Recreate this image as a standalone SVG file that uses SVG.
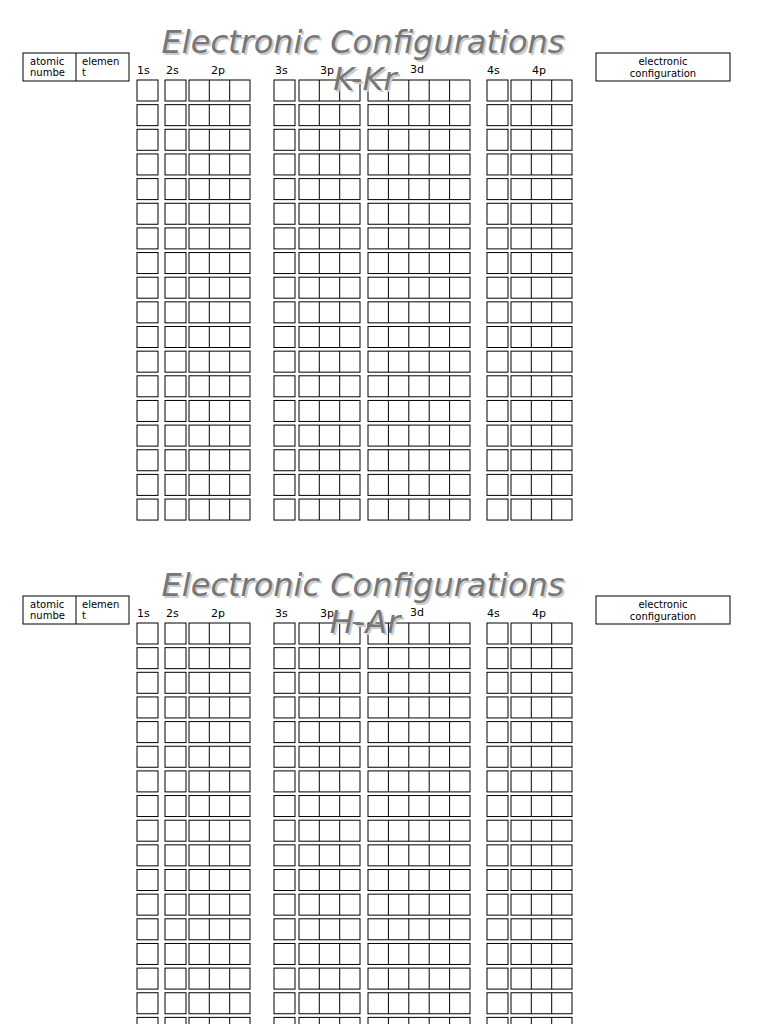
<svg xmlns="http://www.w3.org/2000/svg" width="768" height="1024" viewBox="0 0 768 1024">
<style>
.b{fill:#fff;stroke:#000;stroke-width:1}
.t{font-family:"DejaVu Sans",sans-serif;font-size:11px;fill:#000}
.s{font-family:"DejaVu Sans",sans-serif;font-size:10px;fill:#000}
.ti{font-family:"DejaVu Sans",sans-serif;font-style:italic;font-size:32px;fill:#777;text-anchor:middle}
.sh{font-family:"DejaVu Sans",sans-serif;font-style:italic;font-size:32px;fill:#ccc;text-anchor:middle}
</style>
<defs>
<g id="row">
<rect class="b" x="137" y="0" width="21" height="21"/>
<rect class="b" x="165" y="0" width="21" height="21"/>
<rect class="b" x="189" y="0" width="61" height="21"/><line x1="209.3" y1="0" x2="209.3" y2="21" stroke="#000"/><line x1="229.7" y1="0" x2="229.7" y2="21" stroke="#000"/>
<rect class="b" x="274" y="0" width="21" height="21"/>
<rect class="b" x="299" y="0" width="61" height="21"/><line x1="319.3" y1="0" x2="319.3" y2="21" stroke="#000"/><line x1="339.7" y1="0" x2="339.7" y2="21" stroke="#000"/>
<rect class="b" x="368" y="0" width="102" height="21"/><line x1="388.4" y1="0" x2="388.4" y2="21" stroke="#000"/><line x1="408.8" y1="0" x2="408.8" y2="21" stroke="#000"/><line x1="429.2" y1="0" x2="429.2" y2="21" stroke="#000"/><line x1="449.6" y1="0" x2="449.6" y2="21" stroke="#000"/>
<rect class="b" x="487" y="0" width="21" height="21"/>
<rect class="b" x="511" y="0" width="61" height="21"/><line x1="531.3" y1="0" x2="531.3" y2="21" stroke="#000"/><line x1="551.7" y1="0" x2="551.7" y2="21" stroke="#000"/>
</g>
<g id="grid">
<use href="#row" y="80"/><use href="#row" y="104.65"/><use href="#row" y="129.3"/><use href="#row" y="153.95"/><use href="#row" y="178.6"/><use href="#row" y="203.25"/><use href="#row" y="227.9"/><use href="#row" y="252.55"/><use href="#row" y="277.2"/><use href="#row" y="301.85"/><use href="#row" y="326.5"/><use href="#row" y="351.15"/><use href="#row" y="375.8"/><use href="#row" y="400.45"/><use href="#row" y="425.1"/><use href="#row" y="449.75"/><use href="#row" y="474.4"/><use href="#row" y="499.05"/>
</g>
<g id="head">
<rect class="b" x="23" y="53" width="106" height="28"/><line x1="76" y1="53" x2="76" y2="81" stroke="#000"/>
<text class="s" x="30" y="65">atomic</text><text class="s" x="30" y="76">numbe</text>
<text class="s" x="82" y="65">elemen</text><text class="s" x="82" y="76">t</text>
<rect class="b" x="596" y="53" width="134" height="28"/>
<text class="s" x="663" y="65" text-anchor="middle">electronic</text><text class="s" x="663" y="77" text-anchor="middle">configuration</text>
<text class="t" x="137" y="74">1s</text><text class="t" x="166" y="74">2s</text><text class="t" x="211" y="74">2p</text>
<text class="t" x="275" y="74">3s</text><text class="t" x="320" y="74">3p</text><text class="t" x="410" y="73">3d</text>
<text class="t" x="487" y="74">4s</text><text class="t" x="532" y="74">4p</text>
</g>
</defs>
<rect width="768" height="1024" fill="#fff"/>
<g id="top">
<use href="#head"/>
<use href="#grid"/>
<text class="sh" x="365" y="55">Electronic Configurations</text>
<text class="ti" x="363" y="53">Electronic Configurations</text>
<text class="sh" x="367" y="92" font-size="30">K-Kr</text>
<text class="ti" x="365" y="90" font-size="30">K-Kr</text>
</g>
<g id="bottom" transform="translate(0,543)">
<use href="#head"/>
<use href="#grid"/>
<text class="sh" x="365" y="55">Electronic Configurations</text>
<text class="ti" x="363" y="53">Electronic Configurations</text>
<text class="sh" x="367" y="92" font-size="30">H-Ar</text>
<text class="ti" x="365" y="90" font-size="30">H-Ar</text>
</g>
<g id="connectors"/>
</svg>
